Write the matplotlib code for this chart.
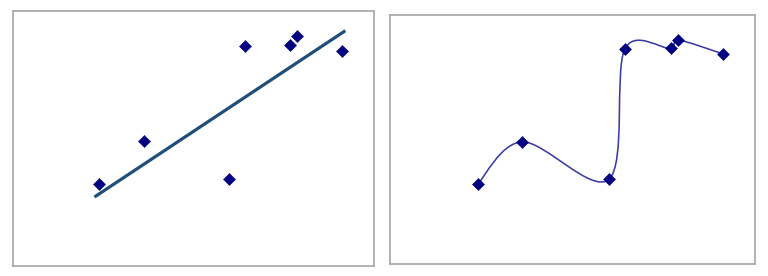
import numpy as np
import matplotlib
matplotlib.use("Agg")
import matplotlib.pyplot as plt
from matplotlib.path import Path
from matplotlib.patches import PathPatch

# sample points (same set in both panels)
x_vals = [2.40, 3.63, 6.00, 6.43, 7.69, 7.88, 9.12]
y_vals = [3.20, 4.90, 3.40, 8.61, 8.65, 8.99, 8.43]

# straight fitted line, ends
fit_x = [2.27, 9.22]
fit_y = [2.70, 9.21]

marker_color = "#000080"
fit_color = "#1f4e79"
curve_color = "#3c3ca6"
frame_color = "#a6a6a6"


def smooth_path(ax, xs, ys, tension=1 / 6):
    """Excel-style smoothed line: cubic Bezier pieces built in display space."""
    pts = ax.transData.transform(np.column_stack([xs, ys]))
    n = len(pts)
    verts = [pts[0]]
    codes = [Path.MOVETO]
    for i in range(n - 1):
        p0 = pts[max(i - 1, 0)]
        p1 = pts[i]
        p2 = pts[i + 1]
        p3 = pts[min(i + 2, n - 1)]
        seg = np.linalg.norm(p2 - p1)
        a = (p2 - p0) * tension
        b = (p3 - p1) * tension
        # keep the arms from overshooting short pieces
        if np.linalg.norm(a) > seg / 2:
            a = a / np.linalg.norm(a) * seg / 2
        if np.linalg.norm(b) > seg / 2:
            b = b / np.linalg.norm(b) * seg / 2
        verts += [p1 + a, p2 - b, p2]
        codes += [Path.CURVE4] * 3
    verts = ax.transData.inverted().transform(np.array(verts))
    return Path(verts, codes)


def style_box(ax):
    ax.set_xlim(0, 10)
    ax.set_ylim(0, 10)
    ax.set_xticks([])
    ax.set_yticks([])
    for sp in ax.spines.values():
        sp.set_color(frame_color)
        sp.set_linewidth(1.2)


fig = plt.figure(figsize=(7.68, 2.76), dpi=100)

# left panel: points with a straight line through them
ax1 = fig.add_axes([12.5 / 768, 10 / 276, 361 / 768, 255.5 / 276])
style_box(ax1)
ax1.plot(fit_x, fit_y, color=fit_color, lw=2.3, solid_capstyle="butt")
ax1.plot(x_vals, y_vals, "D", color=marker_color, ms=6.3, mew=0.4, ls="none")

# right panel: the same points joined by a smoothed curve
ax2 = fig.add_axes([390 / 768, 12 / 276, 365 / 768, 249.3 / 276])
style_box(ax2)
curve = smooth_path(ax2, x_vals, y_vals)
ax2.add_patch(PathPatch(curve, fill=False, edgecolor=curve_color, lw=1.15))
ax2.plot(x_vals, y_vals, "D", color=marker_color, ms=6.3, mew=0.4, ls="none",
         zorder=3)

fig.savefig("out.png", dpi=100)
